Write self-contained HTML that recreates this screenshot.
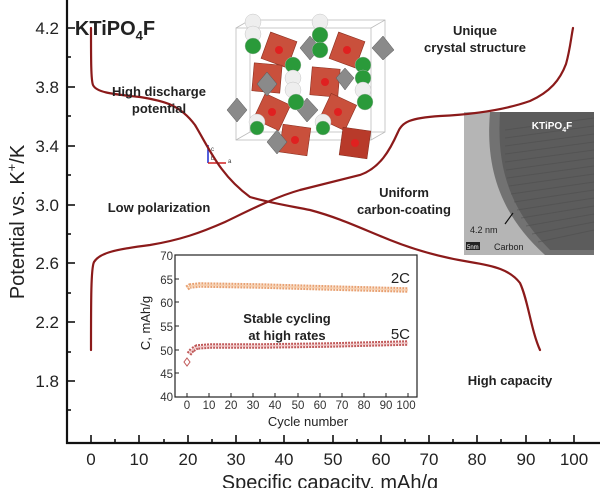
<!DOCTYPE html>
<html><head><meta charset="utf-8"><style>
html,body{margin:0;padding:0;background:#fff;}
svg{display:block;font-family:"Liberation Sans",sans-serif;}
</style></head><body>
<svg width="600" height="488" viewBox="0 0 600 488" xmlns="http://www.w3.org/2000/svg">
<rect width="600" height="488" fill="#fff"/>
<!-- main axes -->
<line x1="67" y1="0" x2="67" y2="444" stroke="#111" stroke-width="2.2"/>
<line x1="66" y1="443" x2="600" y2="443" stroke="#111" stroke-width="2.2"/>
<g stroke="#111" stroke-width="1.6">
<line x1="91" y1="443" x2="91" y2="435"/><line x1="139" y1="443" x2="139" y2="435"/><line x1="188" y1="443" x2="188" y2="435"/><line x1="236" y1="443" x2="236" y2="435"/><line x1="284" y1="443" x2="284" y2="435"/><line x1="333" y1="443" x2="333" y2="435"/><line x1="381" y1="443" x2="381" y2="435"/><line x1="429" y1="443" x2="429" y2="435"/><line x1="477" y1="443" x2="477" y2="435"/><line x1="526" y1="443" x2="526" y2="435"/><line x1="574" y1="443" x2="574" y2="435"/>
<line x1="115" y1="443" x2="115" y2="439"/><line x1="164" y1="443" x2="164" y2="439"/><line x1="212" y1="443" x2="212" y2="439"/><line x1="260" y1="443" x2="260" y2="439"/><line x1="308" y1="443" x2="308" y2="439"/><line x1="357" y1="443" x2="357" y2="439"/><line x1="405" y1="443" x2="405" y2="439"/><line x1="453" y1="443" x2="453" y2="439"/><line x1="501" y1="443" x2="501" y2="439"/><line x1="550" y1="443" x2="550" y2="439"/>
<line x1="67" y1="28" x2="75" y2="28"/><line x1="67" y1="87" x2="75" y2="87"/><line x1="67" y1="146" x2="75" y2="146"/><line x1="67" y1="205" x2="75" y2="205"/><line x1="67" y1="263" x2="75" y2="263"/><line x1="67" y1="322" x2="75" y2="322"/><line x1="67" y1="381" x2="75" y2="381"/>
<line x1="67" y1="57" x2="71" y2="57"/><line x1="67" y1="116" x2="71" y2="116"/><line x1="67" y1="175" x2="71" y2="175"/><line x1="67" y1="234" x2="71" y2="234"/><line x1="67" y1="293" x2="71" y2="293"/><line x1="67" y1="352" x2="71" y2="352"/><line x1="67" y1="410" x2="71" y2="410"/>
</g>
<g font-size="17" fill="#222" text-anchor="middle">
<text x="91" y="465">0</text><text x="139" y="465">10</text><text x="188" y="465">20</text><text x="236" y="465">30</text><text x="284" y="465">40</text><text x="333" y="465">50</text><text x="381" y="465">60</text><text x="429" y="465">70</text><text x="477" y="465">80</text><text x="526" y="465">90</text><text x="574" y="465">100</text>
</g>
<text x="330" y="489" font-size="20" fill="#222" text-anchor="middle">Specific capacity, mAh/g</text>
<g font-size="17" fill="#222" text-anchor="end">
<text x="59" y="34">4.2</text><text x="59" y="93">3.8</text><text x="59" y="152">3.4</text><text x="59" y="211">3.0</text><text x="59" y="269">2.6</text><text x="59" y="328">2.2</text><text x="59" y="387">1.8</text>
</g>
<text transform="translate(24,222) rotate(-90)" font-size="20" fill="#222" text-anchor="middle">Potential vs. K<tspan dy="-8" font-size="13">+</tspan><tspan dy="8">/K</tspan></text>

<!-- TEM image -->
<g>
<rect x="464" y="112" width="130" height="143" fill="#b5b5b5"/>
<path d="M490 112 C486 160 495 210 545 255 L594 255 L594 112 Z" fill="#727272"/>
<path d="M500 112 C497 160 505 205 550 250 L594 250 L594 112 Z" fill="#5c5c5c"/>
<g stroke="#4a4a4a" stroke-width="1" opacity="0.45">
<line x1="505" y1="130" x2="594" y2="118"/><line x1="505" y1="138" x2="594" y2="126"/><line x1="505" y1="146" x2="594" y2="134"/><line x1="505" y1="154" x2="594" y2="142"/><line x1="505" y1="162" x2="594" y2="150"/><line x1="506" y1="170" x2="594" y2="158"/><line x1="507" y1="178" x2="594" y2="166"/><line x1="509" y1="186" x2="594" y2="174"/><line x1="511" y1="194" x2="594" y2="182"/><line x1="514" y1="202" x2="594" y2="190"/><line x1="517" y1="210" x2="594" y2="198"/><line x1="521" y1="218" x2="594" y2="206"/><line x1="526" y1="226" x2="594" y2="214"/><line x1="532" y1="234" x2="594" y2="222"/><line x1="538" y1="242" x2="594" y2="230"/>
</g>
<text x="552" y="129" font-size="10" font-weight="bold" fill="#fff" text-anchor="middle">KTiPO<tspan font-size="7" dy="3">4</tspan><tspan dy="-3">F</tspan></text>
<line x1="505" y1="224" x2="513" y2="213" stroke="#111" stroke-width="1.2"/>
<text x="470" y="233" font-size="9" fill="#222">4.2 nm</text>
<rect x="466" y="242" width="14" height="8" fill="#222"/>
<text x="467" y="249" font-size="6" fill="#fff">5nm</text>
<text x="494" y="250" font-size="9" fill="#222">Carbon</text>
</g>

<!-- crystal structure -->
<g>
<g stroke="#bbb" stroke-width="0.8" fill="none">
<rect x="236" y="28" width="135" height="112"/>
<rect x="250" y="20" width="135" height="112"/>
<line x1="236" y1="28" x2="250" y2="20"/><line x1="371" y1="28" x2="385" y2="20"/><line x1="236" y1="140" x2="250" y2="132"/><line x1="371" y1="140" x2="385" y2="132"/>
</g>
<g fill="#c9503c" stroke="#8a3020" stroke-width="0.6">
<rect x="265" y="36" width="28" height="28" transform="rotate(20 279 50)"/>
<rect x="333" y="36" width="28" height="28" transform="rotate(20 347 50)"/>
<rect x="253" y="64" width="28" height="28" transform="rotate(5 267 78)"/>
<rect x="311" y="68" width="28" height="28" transform="rotate(5 325 82)"/>
<rect x="258" y="98" width="28" height="28" transform="rotate(25 272 112)"/>
<rect x="324" y="98" width="28" height="28" transform="rotate(25 338 112)"/>
<rect x="281" y="126" width="28" height="28" transform="rotate(8 295 140)"/>
<rect x="341" y="129" width="28" height="28" transform="rotate(8 355 143)" fill="#b83a2a"/>
</g>
<g fill="#e02020"><circle cx="279" cy="50" r="4"/><circle cx="347" cy="50" r="4"/><circle cx="325" cy="82" r="4"/><circle cx="272" cy="112" r="4"/><circle cx="338" cy="112" r="4"/><circle cx="295" cy="140" r="4"/><circle cx="355" cy="143" r="4"/></g>
<g fill="#8a8a8a" stroke="#555" stroke-width="0.5">
<polygon points="383,36 394,50 383,60 372,48"/><polygon points="310,36 320,48 310,60 300,48"/><polygon points="267,72 277,84 267,96 257,84"/><polygon points="237,98 247,110 237,122 227,110"/><polygon points="307,98 318,110 307,122 297,110"/><polygon points="277,130 287,142 277,154 267,142"/><polygon points="345,68 354,78 345,90 336,78"/>
</g>
<g stroke="#bbb" stroke-width="0.4">
<circle cx="253" cy="22" r="8" fill="#eee"/><circle cx="253" cy="34" r="8" fill="#eee"/><circle cx="253" cy="46" r="8" fill="#2a9a3a"/>
<circle cx="320" cy="22" r="8" fill="#eee"/><circle cx="320" cy="35" r="8" fill="#2a9a3a"/><circle cx="320" cy="50" r="8" fill="#2a9a3a"/>
<circle cx="293" cy="65" r="8" fill="#2a9a3a"/><circle cx="293" cy="78" r="8" fill="#eee"/><circle cx="293" cy="90" r="8" fill="#eee"/><circle cx="296" cy="102" r="8" fill="#2a9a3a"/>
<circle cx="363" cy="65" r="8" fill="#2a9a3a"/><circle cx="363" cy="78" r="8" fill="#2a9a3a"/><circle cx="363" cy="90" r="8" fill="#eee"/><circle cx="365" cy="102" r="8" fill="#2a9a3a"/>
<circle cx="257" cy="122" r="8" fill="#eee"/><circle cx="257" cy="128" r="7" fill="#2a9a3a"/><circle cx="323" cy="122" r="8" fill="#eee"/><circle cx="323" cy="128" r="7" fill="#2a9a3a"/>
</g>
<line x1="208" y1="163" x2="208" y2="145" stroke="#1a2ad0" stroke-width="1.5"/>
<line x1="208" y1="163" x2="226" y2="163" stroke="#d02020" stroke-width="1.5"/>
<text x="211" y="151" font-size="6" fill="#333">c</text><text x="228" y="163" font-size="6" fill="#333">a</text><text x="211" y="160" font-size="6" fill="#333">b</text>
</g>

<!-- curves -->
<g fill="none" stroke="#8b1a1a" stroke-width="2.2" stroke-linecap="round">
<path d="M91 350 C91 300 91 268 94 262 C99 254 110 250 150 245 C180 240 200 233 225 222 C250 210 275 197 300 190 C320 185 340 180 360 175 C380 168 390 150 398 132 C402 122 410 118 440 116 C480 114 510 108 530 101 C550 92 560 80 566 64 C570 50 571 38 573 28"/>
<path d="M91 28 C91 60 91 80 93 85 C96 92 110 94 140 97 C165 101 180 105 195 125 C210 150 220 175 250 197 C270 203 290 206 310 210 C340 218 360 228 390 240 C420 252 445 258 470 262 C495 266 510 270 520 283 C528 300 531 330 540 350"/>
</g>

<!-- annotations -->
<g font-weight="bold" fill="#222" text-anchor="middle" font-size="13">
<text x="115" y="35" font-size="20">KTiPO<tspan font-size="13" dy="5">4</tspan><tspan dy="-5">F</tspan></text>
<text x="159" y="96">High discharge</text><text x="159" y="113">potential</text>
<text x="159" y="212">Low polarization</text>
<text x="475" y="35">Unique</text><text x="475" y="52">crystal structure</text>
<text x="404" y="197">Uniform</text><text x="404" y="214">carbon-coating</text>
<text x="510" y="385">High capacity</text>
</g>

<!-- inset -->
<g>
<rect x="175" y="255" width="242" height="142" fill="#fff" stroke="#222" stroke-width="1.2"/>
<g stroke="#222" stroke-width="1">
<line x1="175" y1="255" x2="179" y2="255"/><line x1="175" y1="279" x2="179" y2="279"/><line x1="175" y1="302" x2="179" y2="302"/><line x1="175" y1="326" x2="179" y2="326"/><line x1="175" y1="350" x2="179" y2="350"/><line x1="175" y1="373" x2="179" y2="373"/>
<line x1="187" y1="397" x2="187" y2="393"/><line x1="209" y1="397" x2="209" y2="393"/><line x1="231" y1="397" x2="231" y2="393"/><line x1="253" y1="397" x2="253" y2="393"/><line x1="275" y1="397" x2="275" y2="393"/><line x1="298" y1="397" x2="298" y2="393"/><line x1="320" y1="397" x2="320" y2="393"/><line x1="342" y1="397" x2="342" y2="393"/><line x1="364" y1="397" x2="364" y2="393"/><line x1="386" y1="397" x2="386" y2="393"/><line x1="408" y1="397" x2="408" y2="393"/>
</g>
<g font-size="11.5" fill="#333" text-anchor="end">
<text x="173" y="260">70</text><text x="173" y="284">65</text><text x="173" y="307">60</text><text x="173" y="331">55</text><text x="173" y="355">50</text><text x="173" y="378">45</text><text x="173" y="401">40</text>
</g>
<g font-size="11.5" fill="#333" text-anchor="middle">
<text x="187" y="409">0</text><text x="209" y="409">10</text><text x="231" y="409">20</text><text x="253" y="409">30</text><text x="275" y="409">40</text><text x="298" y="409">50</text><text x="320" y="409">60</text><text x="342" y="409">70</text><text x="364" y="409">80</text><text x="386" y="409">90</text><text x="406" y="409">100</text>
</g>
<text x="308" y="426" font-size="13" fill="#222" text-anchor="middle">Cycle number</text>
<text transform="translate(150,323) rotate(-90)" font-size="13" fill="#222" text-anchor="middle">C, mAh/g</text>
<path d="M187 288 L190 286 L200 285 L260 286 L330 288 L408 290" fill="none" stroke="#e8a070" stroke-width="5.5" stroke-dasharray="2 1"/>
<path d="M187 288 L190 286 L200 285 L260 286 L330 288 L408 290" fill="none" stroke="#f6d0b0" stroke-width="1.5"/>
<path d="M189 354 L192 350 L197 347 L210 346 L260 346 L330 345 L408 343" fill="none" stroke="#c05858" stroke-width="5.5" stroke-dasharray="2 1"/>
<path d="M189 354 L192 350 L197 347 L210 346 L260 346 L330 345 L408 343" fill="none" stroke="#f0c8c8" stroke-width="1.5"/>
<polygon points="187,358 190,362 187,366 184,362" fill="#fff" stroke="#c05858"/>
<text x="410" y="283" font-size="15" fill="#222" text-anchor="end">2C</text>
<text x="410" y="339" font-size="15" fill="#222" text-anchor="end">5C</text>
<text x="287" y="323" font-size="13" font-weight="bold" fill="#222" text-anchor="middle">Stable cycling</text>
<text x="287" y="340" font-size="13" font-weight="bold" fill="#222" text-anchor="middle">at high rates</text>
</g>
</svg>
</body></html>
